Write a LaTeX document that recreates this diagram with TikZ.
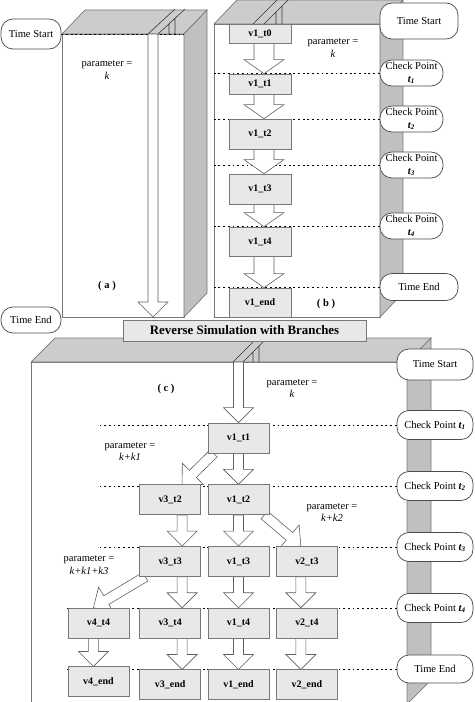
\documentclass[tikz,border=0pt]{standalone}
\usepackage{fontspec}
\setmainfont{Liberation Serif}
\usetikzlibrary{positioning, calc, backgrounds}
\definecolor{facegray}{RGB}{204,204,204}
\definecolor{sidegray}{RGB}{192,192,192}
\definecolor{boxgray}{RGB}{232,232,232}
\definecolor{edgegray}{RGB}{120,120,120}
\tikzstyle{stepbox} = [rectangle, draw=edgegray, fill=boxgray, line width=0.6pt, minimum width=1.83cm,
                       minimum height=0.9cm, inner sep=0pt, font=\fontsize{8.5}{10}\selectfont\bfseries]
\tikzstyle{tag} = [rectangle, rounded corners=0.36cm, draw=black!70, fill=white, line width=0.6pt,
                   inner sep=0pt, align=center, font=\fontsize{9}{11}\selectfont]
\tikzstyle{param} = [align=center, inner sep=0pt, font=\fontsize{9}{11}\selectfont]
\tikzstyle{caption} = [inner sep=0pt, font=\fontsize{9}{11}\selectfont\bfseries]
\tikzstyle{banner} = [rectangle, draw=edgegray, fill=boxgray, line width=0.6pt, minimum width=7.29cm,
                      minimum height=0.63cm, font=\fontsize{11}{13}\selectfont\bfseries]
\tikzstyle{front} = [draw=edgegray, fill=white, line width=0.6pt]
\tikzstyle{topface} = [draw=edgegray, fill=facegray, line width=0.6pt]
\tikzstyle{sideface} = [draw=edgegray, fill=sidegray, line width=0.6pt]
\tikzstyle{hatch} = [black!80, line width=0.5pt]
\tikzstyle{checkline} = [black, line width=0.7pt, dash pattern=on 1.6pt off 2.4pt]
\tikzstyle{hollow} = [draw=edgegray!80!black, fill=white, line width=0.5pt]
% hollow block arrow: from, to, shaft half width, head half width, head length
\newcommand{\drawblock}[5]{%
  \coordinate (ba-s) at (#1);
  \coordinate (ba-e) at (#2);
  \coordinate (ba-h) at ($(ba-e)!#5!(ba-s)$);
  \draw[hollow] ($(ba-s)!#3!90:(ba-e)$) -- ($(ba-h)!#3!90:(ba-e)$) -- ($(ba-h)!#4!90:(ba-e)$) -- (ba-e)
    -- ($(ba-h)!#4!-90:(ba-e)$) -- ($(ba-h)!#3!-90:(ba-e)$) -- ($(ba-s)!#3!-90:(ba-e)$) -- cycle;}
\newcommand{\blockarrow}[2]{\drawblock{#1}{#2}{0.15cm}{0.45cm}{0.45cm}}
\newcommand{\wideblockarrow}[2]{\drawblock{#1}{#2}{0.3cm}{0.6cm}{0.42cm}}

\begin{document}
\begin{tikzpicture}[x=0.03cm, y=-0.03cm, node distance=0.93cm and 0.2cm]
    \useasboundingbox (0,0) rectangle (474,702);

    % 3D blocks
    \begin{scope}[on background layer]
        \draw[front] (62,34) rectangle (184,317);
        \draw[topface] (62,34) -- (85,10) -- (207,10) -- (184,34) -- cycle;
        \draw[sideface] (184,34) -- (207,10) -- (207,293) -- (184,317) -- cycle;
        \draw[hatch] (148,34) -- (175,9) (158,34) -- (185,9) (169,34) -- (169,24) (175,34) -- (175,18);

        \draw[front] (214,24) rectangle (380,317);
        \draw[topface] (214,24) -- (237,0) -- (403,0) -- (380,24) -- cycle;
        \draw[sideface] (380,24) -- (403,0) -- (403,293) -- (380,317) -- cycle;
        \draw[hatch] (253,24) -- (277,0) (264,24) -- (288,0) (276,24) -- (276,12) (282,24) -- (282,6);

        \draw[front] (31,362) rectangle (407,704);
        \draw[topface] (31,362) -- (55,338) -- (431,338) -- (407,362) -- cycle;
        \draw[sideface] (407,362) -- (431,338) -- (431,680) -- (407,704) -- cycle;
        \draw[hatch] (233,362) -- (258,337) (243,362) -- (268,337) (253,362) -- (253,352) (259,362) -- (259,346);
    \end{scope}

    % Time marks
    \node[tag, minimum width=1.8cm, minimum height=0.9cm] (starta) at (31,34) {Time Start};
    \node[tag, minimum width=1.8cm, minimum height=0.78cm] (enda) at (31,320) {Time End};

    \node[tag, minimum width=2.34cm, minimum height=1.08cm] (startb) at (419,21) {Time Start};
    \node[tag, minimum width=1.89cm, minimum height=0.78cm] (cp1b) at (411.5,73) {Check Point\\\textbf{\textit{t\textsubscript{1}}}};
    \node[tag, minimum width=1.89cm, minimum height=0.78cm] (cp2b) at (411.5,119) {Check Point\\\textbf{\textit{t\textsubscript{2}}}};
    \node[tag, minimum width=1.89cm, minimum height=0.78cm] (cp3b) at (411.5,165) {Check Point\\\textbf{\textit{t\textsubscript{3}}}};
    \node[tag, minimum width=1.89cm, minimum height=0.78cm] (cp4b) at (411.5,226) {Check Point\\\textbf{\textit{t\textsubscript{4}}}};
    \node[tag, minimum width=2.34cm, minimum height=0.81cm] (endb) at (419,287) {Time End};

    \node[tag, minimum width=2.28cm, minimum height=0.93cm] (startc) at (435,364.5) {Time Start};
    \node[tag, minimum width=2.28cm, minimum height=0.87cm] (cp1c) at (435,425) {Check Point \textbf{\textit{t\textsubscript{1}}}};
    \node[tag, minimum width=2.28cm, minimum height=0.87cm] (cp2c) at (435,486) {Check Point \textbf{\textit{t\textsubscript{2}}}};
    \node[tag, minimum width=2.28cm, minimum height=0.87cm] (cp3c) at (435,547) {Check Point \textbf{\textit{t\textsubscript{3}}}};
    \node[tag, minimum width=2.28cm, minimum height=0.87cm] (cp4c) at (435,608) {Check Point \textbf{\textit{t\textsubscript{4}}}};
    \node[tag, minimum width=2.28cm, minimum height=0.84cm] (endc) at (435,669) {Time End};

    % States of (b)
    \node[stepbox, minimum width=1.86cm, minimum height=0.57cm] (bt0) at (260,33.5) {v1\_t0};
    \node[stepbox, minimum width=1.86cm, minimum height=0.6cm] (bt1) at (260,84) {v1\_t1};
    \node[stepbox, minimum width=1.86cm] (bt2) at (260,134) {v1\_t2};
    \node[stepbox, minimum width=1.86cm] (bt3) at (260,189) {v1\_t3};
    \node[stepbox, minimum width=1.86cm, minimum height=0.87cm] (bt4) at (260,241.5) {v1\_t4};
    \node[stepbox, minimum width=1.86cm, minimum height=0.87cm] (bend) at (260,302.5) {v1\_end};

    % States of (c)
    \node[stepbox] (v1t1) at (238.5,438) {v1\_t1};
    \node[stepbox, below=of v1t1] (v1t2) {v1\_t2};
    \node[stepbox, left=of v1t2] (v3t2) {v3\_t2};
    \node[stepbox, below=of v3t2] (v3t3) {v3\_t3};
    \node[stepbox, below=of v1t2] (v1t3) {v1\_t3};
    \node[stepbox, right=of v1t3] (v2t3) {v2\_t3};
    \node[stepbox, below=of v3t3] (v3t4) {v3\_t4};
    \node[stepbox, left=0.3cm of v3t4] (v4t4) {v4\_t4};
    \node[stepbox, below=of v1t3] (v1t4) {v1\_t4};
    \node[stepbox, below=of v2t3] (v2t4) {v2\_t4};
    \node[stepbox, below=0.84cm of v4t4] (v4end) {v4\_end};
    \node[stepbox, below=of v3t4] (v3end) {v3\_end};
    \node[stepbox, below=of v1t4] (v1end) {v1\_end};
    \node[stepbox, below=of v2t4] (v2end) {v2\_end};

    % Labels
    \node[param] (para) at (107,70) {parameter =\\\textit{k}};
    \node[caption] (capa) at (107,286) {( a )};
    \node[param] (parb) at (333,48) {parameter =\\\textit{k}};
    \node[caption] (capb) at (326,304) {( b )};
    \node[caption] (capc) at (166,389) {( c )};
    \node[param] (park) at (292,388.5) {parameter =\\\textit{k}};
    \node[param] (park1) at (130,451.5) {parameter =\\\textit{k+k1}};
    \node[param] (park2) at (332,512.5) {parameter =\\\textit{k+k2}};
    \node[param] (park3) at (89,565) {parameter =\\\textit{k+k1+k3}};
    \node[banner] (title) at (244.5,330.5) {Reverse Simulation with Branches};

    \coordinate (ina) at (153,34);
    \coordinate (outa) at (153,317);
    \coordinate (inc) at (238.5,362);

    % Check lines and arrows
    \begin{scope}[on background layer]
        \draw[checkline] (starta.east) -- ++(122,0);
        \foreach \n in {cp1b, cp2b, cp3b, cp4b, endb}
            \draw[checkline] (\n.west) -- ++(-166,0);
        \foreach \n in {cp1c, cp2c, cp3c}
            \draw[checkline] (\n.west) -- ++(-297,0);
        \foreach \n in {cp4c, endc}
            \draw[checkline] (\n.west) -- ++(-330,0);

        \blockarrow{ina}{outa};

        \wideblockarrow{$(bt0.south)+(4,0)$}{$(bt1.north)+(4,0)$};
        \wideblockarrow{$(bt1.south)+(4,0)$}{$(bt2.north)+(4,0)$};
        \wideblockarrow{$(bt2.south)+(4,0)$}{$(bt3.north)+(4,0)$};
        \wideblockarrow{$(bt3.south)+(4,0)$}{$(bt4.north)+(4,0)$};
        \wideblockarrow{$(bt4.south)+(4,0)$}{$(bend.north)+(4,0)$};

        \blockarrow{inc}{v1t1.north};
        \blockarrow{v1t1.south}{v1t2.north};
        \blockarrow{v1t2.south}{v1t3.north};
        \blockarrow{v1t3.south}{v1t4.north};
        \blockarrow{v1t4.south}{v1end.north};
        \blockarrow{$(v1t1.south west)+(6,0)$}{$(v3t2.north)+(12,0)$};
        \blockarrow{$(v1t2.south east)+(-5,0)$}{$(v2t3.north)+(-6,0)$};
        \blockarrow{$(v3t2.south)+(12,0)$}{$(v3t3.north)+(12,0)$};
        \blockarrow{$(v3t3.south)+(12,0)$}{$(v3t4.north)+(12,0)$};
        \blockarrow{$(v3t4.south)+(12,0)$}{$(v3end.north)+(12,0)$};
        \blockarrow{$(v3t3.south west)+(6,0)$}{$(v4t4.north)+(-5,0)$};
        \blockarrow{$(v2t3.south)+(-6,0)$}{$(v2t4.north)+(-6,0)$};
        \blockarrow{$(v2t4.south)+(-6,0)$}{$(v2end.north)+(-6,0)$};
        \blockarrow{$(v4t4.south)+(-5,0)$}{$(v4end.north)+(-5,0)$};
    \end{scope}
\end{tikzpicture}
\end{document}
